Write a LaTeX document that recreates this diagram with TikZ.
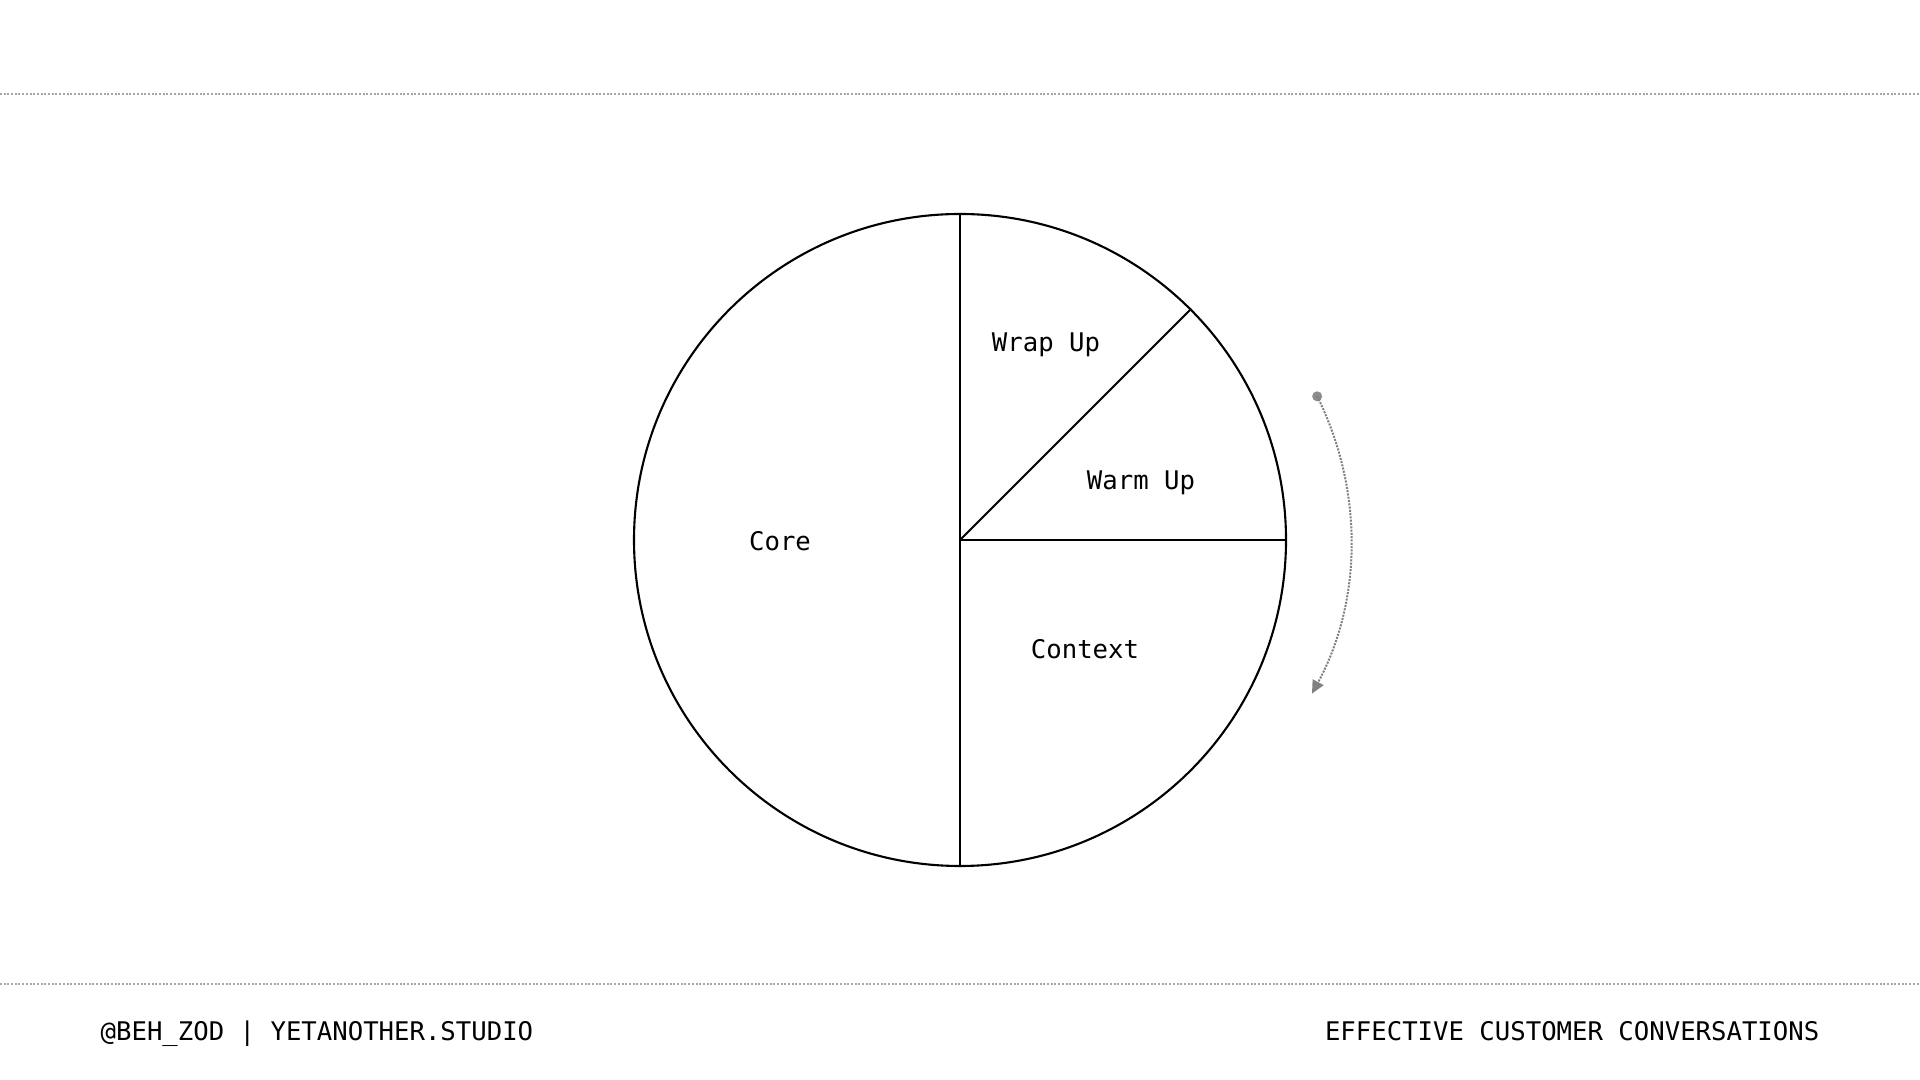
\documentclass[tikz,border=0pt]{standalone}
\usepackage{fontspec}
\setmonofont{DejaVu Sans Mono}
\usetikzlibrary{arrows.meta, calc}

\begin{document}
\begin{tikzpicture}[
		label text/.style = {font=\ttfamily\fontsize{7.3}{9}\selectfont, inner sep=0pt},
		rule line/.style = {draw=black!35, line width=0.2mm, dash pattern=on 0.2mm off 0.17mm},
		turn arc/.style = {draw=black!50, line width=0.2mm, dash pattern=on 0.2mm off 0.13mm},
		pie line/.style = {draw=black, line width=0.6pt}
	]
		\useasboundingbox (0, 0) rectangle (19.2, 10.8);

		% frame rules
		\coordinate (topL) at (0, 9.86);
		\coordinate (topR) at (19.2, 9.86);
		\coordinate (botL) at (0, 0.955);
		\coordinate (botR) at (19.2, 0.955);
		\draw[rule line] (topL) -- (topR);
		\draw[rule line] (botL) -- (botR);

		% the pie
		\node[circle, pie line, minimum size = 6.52 cm, inner sep=0pt] (pie) at (9.6, 5.4) {};
		\draw[pie line] (pie.north) -- (pie.south);
		\draw[pie line] (pie.center) -- (pie.east);
		\draw[pie line] (pie.center) -- (pie.45);

		\node[label text] (wrap) at (10.46, 7.35) {Wrap Up};
		\node[label text] (warm) at (11.41, 5.97) {Warm Up};
		\node[label text] (core) at (7.8, 5.39) {Core};
		\node[label text] (ctx) at (10.85, 4.31) {Context};

		% direction
		\coordinate (arcMid) at (10.29, 5.4);
		\coordinate (arcStart) at ($(arcMid) + (26.5:3.22)$);
		\fill[black!45] (arcStart) circle (0.05);
		\draw[turn arc, -{Triangle[length=1.3mm, width=1.2mm]}] (arcStart) arc[start angle=26.5, end angle=-28.5, radius=3.22];

		% footer
		\node[label text, anchor=base west] (who) at (1.0, 0.39) {@BEH\_ZOD | YETANOTHER.STUDIO};
		\node[label text, anchor=base east] (what) at (18.2, 0.39) {EFFECTIVE CUSTOMER CONVERSATIONS};
\end{tikzpicture}
\end{document}
